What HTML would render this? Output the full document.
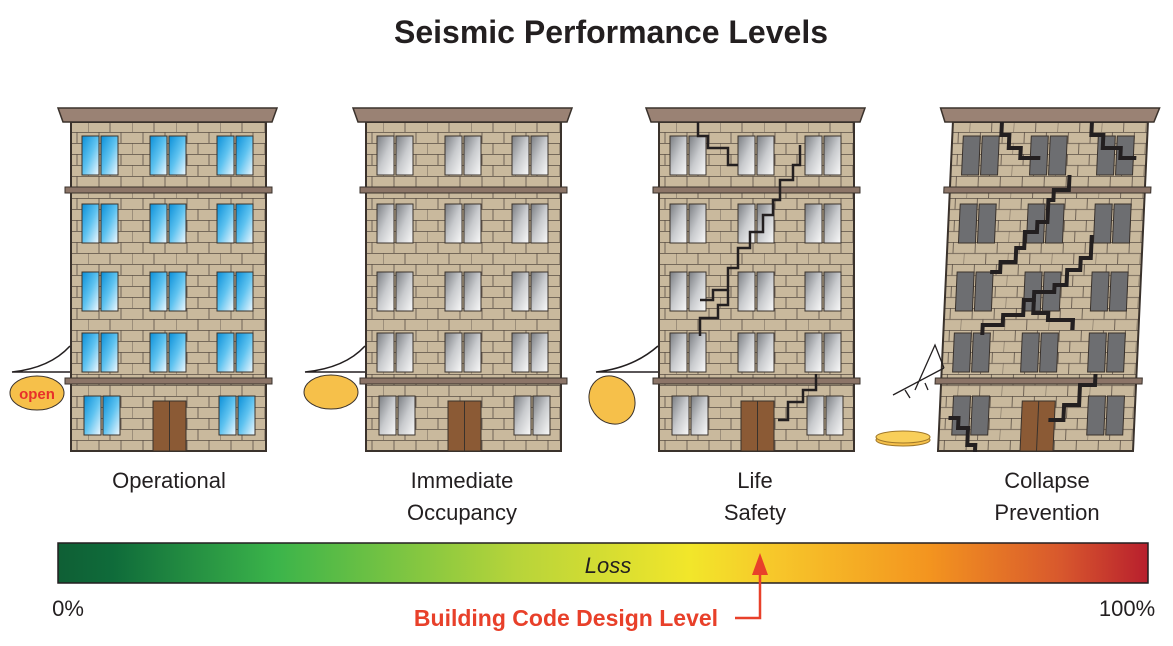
<!DOCTYPE html>
<html><head><meta charset="utf-8"><style>
html,body{margin:0;padding:0;background:#fff;}
svg{display:block;font-family:"Liberation Sans",sans-serif;}
</style></head><body>
<svg width="1173" height="646" viewBox="0 0 1173 646" xmlns="http://www.w3.org/2000/svg">
<defs>
<pattern id="brick" width="44" height="22" patternUnits="userSpaceOnUse">
<rect width="44" height="22" fill="#c9b99d"/>
<path d="M0 0.5H44M0 11.5H44M11 0V11M33 0V11M0 11V22M22 11V22" stroke="#5a4e44" stroke-width="0.8"/>
</pattern>
<linearGradient id="blue" x1="0" y1="0" x2="1" y2="1">
<stop offset="0" stop-color="#0a8fd8"/><stop offset="0.5" stop-color="#5fc3f0"/><stop offset="1" stop-color="#f2f9fe"/></linearGradient>
<linearGradient id="gray" x1="0" y1="0" x2="1" y2="1">
<stop offset="0" stop-color="#7a7d82"/><stop offset="0.5" stop-color="#c9cbce"/><stop offset="1" stop-color="#fafafa"/></linearGradient>
<linearGradient id="loss" x1="0" y1="0" x2="1" y2="0">
<stop offset="0" stop-color="#0f5f35"/><stop offset="0.05" stop-color="#0f6b3a"/><stop offset="0.2" stop-color="#3bb44a"/>
<stop offset="0.42" stop-color="#b7d43a"/><stop offset="0.58" stop-color="#f2e62a"/><stop offset="0.66" stop-color="#f7c62a"/>
<stop offset="0.8" stop-color="#f3941f"/><stop offset="0.92" stop-color="#d8582d"/><stop offset="1" stop-color="#b81f2d"/></linearGradient>

<g id="shell">
<rect x="71" y="122" width="195" height="329" fill="url(#brick)" stroke="#3a322c" stroke-width="2"/>
<polygon points="58,108 277,108 272,122 63,122" fill="#9a8274" stroke="#3a322c" stroke-width="1.5"/>
<rect x="65" y="187" width="207" height="6" fill="#8c7568" stroke="#3a322c"/>
<rect x="65" y="378" width="207" height="6" fill="#8c7568" stroke="#3a322c"/>
<rect x="153" y="401" width="33" height="50" fill="#8b5a35" stroke="#3a322c"/>
<line x1="169.5" y1="401" x2="169.5" y2="451" stroke="#3a322c"/>
</g>
<g id="row"><rect x="82" y="0" width="17" height="39"/><rect x="101" y="0" width="17" height="39"/>
<rect x="150" y="0" width="17" height="39"/><rect x="169" y="0" width="17" height="39"/>
<rect x="217" y="0" width="17" height="39"/><rect x="236" y="0" width="17" height="39"/></g>
<g id="wins">
<use href="#row" y="136"/><use href="#row" y="204"/><use href="#row" y="272"/><use href="#row" y="333"/>
<rect x="84" y="396" width="17" height="39"/><rect x="103" y="396" width="17" height="39"/>
<rect x="219" y="396" width="17" height="39"/><rect x="238" y="396" width="17" height="39"/>
</g>
</defs>

<text x="611" y="43" text-anchor="middle" font-size="32" font-weight="bold" fill="#231f20">Seismic Performance Levels</text>

<!-- Building 1 -->
<use href="#shell"/>
<g fill="url(#blue)" stroke="#3a322c" stroke-width="1"><use href="#wins"/></g>
<path d="M70 346 Q50 368 12 372 L70 372" fill="none" stroke="#231f20" stroke-width="1.5"/>
<ellipse cx="37" cy="393" rx="27" ry="17" fill="#f6c04a" stroke="#3a322c"/>
<text x="37" y="399" text-anchor="middle" font-size="15" font-weight="bold" fill="#e8302a">open</text>

<!-- Building 2 -->
<g transform="translate(295,0)">
<use href="#shell"/>
<g fill="url(#gray)" stroke="#3a322c" stroke-width="1"><use href="#wins"/></g>
<path d="M70 346 Q50 368 10 372 L70 372" fill="none" stroke="#231f20" stroke-width="1.5"/>
<ellipse cx="36" cy="392" rx="27" ry="17" fill="#f6c04a" stroke="#3a322c"/>
</g>

<!-- Building 3 -->
<g transform="translate(588,0)">
<use href="#shell"/>
<g fill="url(#gray)" stroke="#3a322c" stroke-width="1"><use href="#wins"/></g>
<g fill="none" stroke="#231f20" stroke-width="2.5">
<path d="M110 122 V136 H120 V148 H140 V165 H150"/>
<path d="M212 145 V165 H205 V180 H192 V200 H185 V215 H175 V232 H162 V248 H150 V268 H140 V290 H125 V300 H112"/>
<path d="M140 290 V305 H130 V318 H112 V336"/>
<path d="M228 374 V390 H215 V402 H200 V420 H190"/>
</g>
<path d="M70 346 Q45 368 8 372 L70 372" fill="none" stroke="#231f20" stroke-width="1.5"/>
<ellipse cx="24" cy="400" rx="22" ry="25" transform="rotate(-35 24 400)" fill="#f6c04a" stroke="#3a322c"/>
</g>

<!-- Building 4 (tilted) -->
<g transform="translate(0,451) skewX(-2.6) translate(0,-451) translate(867,0)">
<use href="#shell"/>
<g fill="#6d6e71" stroke="#3a322c" stroke-width="1"><use href="#wins"/></g>
<g fill="none" stroke="#231f20" stroke-width="4">
<path d="M120 122 V135 H128 V148 H140 V158 H160"/>
<path d="M210 122 V135 H222 V148 H240 V158 H256"/>
<path d="M190 175 V190 H175 V200 H170 V222 H160 V232 H148 V248 H140 V262 H125 V272 H115"/>
<path d="M215 235 V258 H205 V270 H192 V285 H180 V292 H160 V300 H150 V315 H130 V325 H110 V335"/>
<path d="M160 300 V313 H175 V320 H200 V330"/>
<path d="M225 374 V385 H210 V405 H195 V420 H180"/>
<path d="M80 418 H90 V428 H100 V445 H108 V452"/>
</g>
</g>
<path d="M944 368 L893 395 M944 368 L935 345 L915 390 M905 390 L910 398 M925 383 L928 390" fill="none" stroke="#231f20" stroke-width="1.3"/>
<ellipse cx="903" cy="440" rx="27" ry="6" fill="#f6c04a" stroke="#a0782a"/>
<ellipse cx="903" cy="437" rx="27" ry="6" fill="#f9cf5a" stroke="#a0782a"/>

<!-- labels -->
<g font-size="22" fill="#231f20" text-anchor="middle">
<text x="169" y="488">Operational</text>
<text x="462" y="488">Immediate</text><text x="462" y="520">Occupancy</text>
<text x="755" y="488">Life</text><text x="755" y="520">Safety</text>
<text x="1047" y="488">Collapse</text><text x="1047" y="520">Prevention</text>
</g>

<!-- loss bar -->
<rect x="58" y="543" width="1090" height="40" fill="url(#loss)" stroke="#231f20" stroke-width="1.5"/>
<text x="608" y="573" text-anchor="middle" font-size="22" font-style="italic" fill="#231f20">Loss</text>
<text x="68" y="616" text-anchor="middle" font-size="22" fill="#231f20">0%</text>
<text x="1127" y="616" text-anchor="middle" font-size="22" fill="#231f20">100%</text>
<path d="M735 618 H760 V570" fill="none" stroke="#e8402a" stroke-width="2.5"/>
<polygon points="760,553 752,575 768,575" fill="#e8402a"/>
<text x="566" y="626" text-anchor="middle" font-size="23" font-weight="bold" fill="#e8402a">Building Code Design Level</text>
</svg>
</body></html>
